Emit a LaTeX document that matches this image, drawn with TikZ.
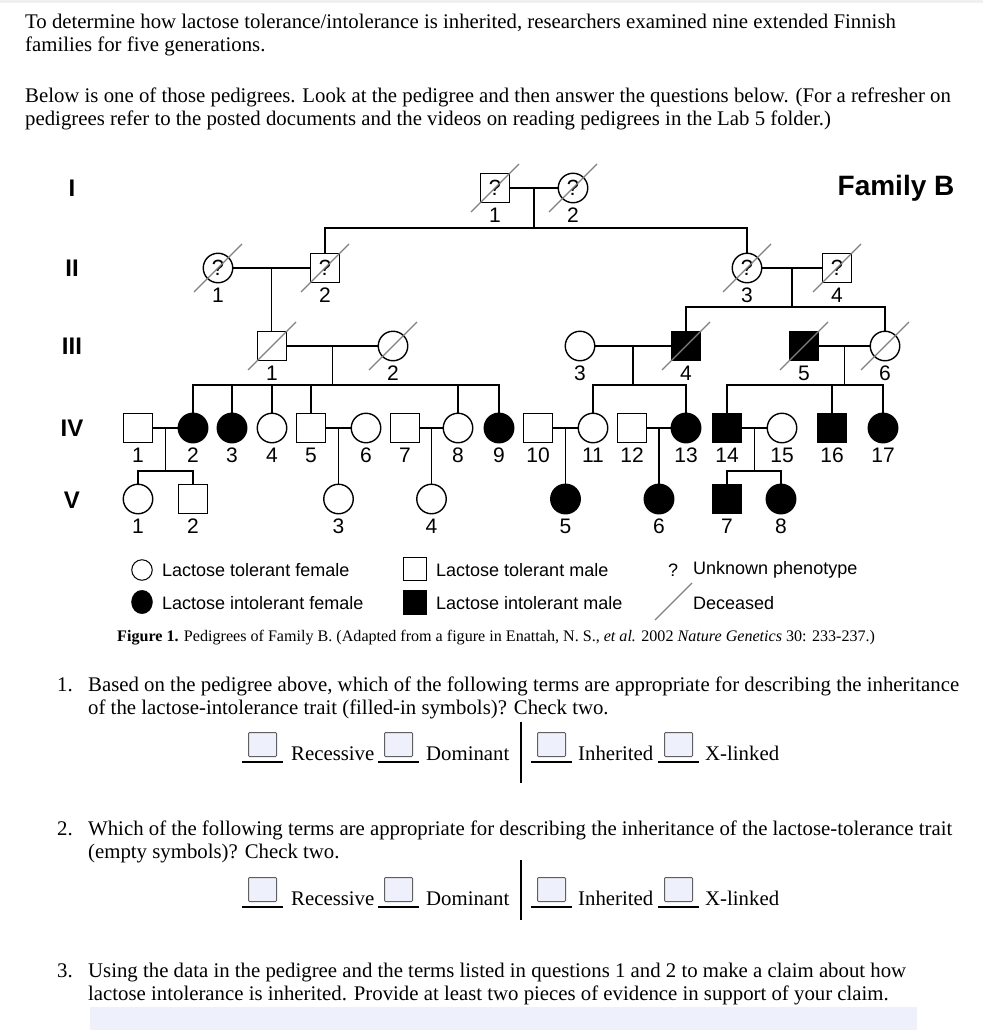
\documentclass[tikz,border=0pt]{standalone}
\usepackage{fontspec}
\setmainfont{Liberation Serif}
\setsansfont{Liberation Sans}
\usetikzlibrary{calc,shapes.geometric}
\definecolor{boxblue}{HTML}{EEF0FB}
\definecolor{deadgray}{gray}{0.5}
\newcommand{\dead}[1]{\draw[deadline] ([shift={(-24pt,-24pt)}]#1.center) -- ([shift={(24pt,24pt)}]#1.center);}

\begin{document}
\begin{tikzpicture}[x=1pt,y=-1pt,
  body/.style={font=\fontsize{20.8}{23}\selectfont,inner sep=0pt,anchor=base west},
  pline/.style={line width=1.7pt},
  sym/.style={draw,minimum size=29.5pt,inner sep=0pt,line width=1.4pt},
  male/.style={sym,rectangle},
  female/.style={sym,circle},
  aff/.style={fill=black},
  unk/.style={font=\sffamily\fontsize{22}{22}\selectfont},
  deadline/.style={deadgray,line width=1.1pt},
  every label/.style={font=\sffamily\fontsize{21}{21}\selectfont,inner sep=0pt},
  label distance=4pt,
  gen/.style={font=\sffamily\bfseries\fontsize{24}{24}\selectfont},
  legtext/.style={font=\sffamily\fontsize{18}{18}\selectfont,anchor=west,inner sep=0pt},
  chk/.style={draw=gray!75!black,fill=boxblue,line width=1pt,rounded corners=1pt,
    minimum width=28pt,minimum height=24pt,inner sep=0pt,anchor=south west}]
\fill[white] (0,0) rectangle (983,1030);
\useasboundingbox (0,0) rectangle (983,1030);
\fill[gray!12] (0,0) rectangle (983,3);

% intro
\node[body] (intro1) at (25,29) {To determine how lactose tolerance/intolerance is inherited, researchers examined nine extended Finnish};
\node[body] (intro2) at (25,52) {families for five generations.};
\node[body] (intro3) at (25,103) {Below is one of those pedigrees. Look at the pedigree and then answer the questions below. (For a refresher on};
\node[body] (intro4) at (25,126) {pedigrees refer to the posted documents and the videos on reading pedigrees in the Lab 5 folder.)};

% generations
\node[gen] (gI) at (72,188) {I};
\node[gen] (gII) at (72,268) {II};
\node[gen] (gIII) at (72,346) {III};
\node[gen] (gIV) at (72,428) {IV};
\node[gen] (gV) at (72,500) {V};
\node[font=\sffamily\bfseries\fontsize{28}{28}\selectfont] (fam) at (896,188) {Family B};

\node[male,unk,label=below:1] (I1) at (495,188) {?};
\node[female,unk,label=below:2] (I2) at (573,188) {?};

\node[female,unk,label=below:1] (II1) at (218,268) {?};
\node[male,unk,label=below:2] (II2) at (325,268) {?};
\node[female,unk,label=below:3] (II3) at (747,268) {?};
\node[male,unk,label=below:4] (II4) at (837,268) {?};

\node[male,label=below:1] (III1) at (272,346) {};
\node[female,label=below:2] (III2) at (393,346) {};
\node[female,label=below:3] (III3) at (580,346) {};
\node[male,aff,label=below:4] (III4) at (686,346) {};
\node[male,aff,label=below:5] (III5) at (804,346) {};
\node[female,label=below:6] (III6) at (885,346) {};

\foreach \i/\x/\s/\f in {1/138/rectangle/white,2/193/circle/black,3/232/circle/black,
  4/272/circle/white,5/311/rectangle/white,6/366/circle/white,7/405/rectangle/white,
  8/458/circle/white,9/499/circle/black,10/538/rectangle/white,11/593/circle/white,
  12/632/rectangle/white,13/686/circle/black,14/727/rectangle/black,15/782/circle/white,
  16/832/rectangle/black,17/883/circle/black}
  \node[sym,shape=\s,fill=\f,label=below:\i] (IV\i) at (\x,428) {};

\foreach \i/\x/\s/\f in {1/138/circle/white,2/193/rectangle/white,3/338.5/circle/white,
  4/431.5/circle/white,5/565.5/circle/black,6/659/circle/black,7/727/rectangle/black,
  8/781/circle/black}
  \node[sym,shape=\s,fill=\f,label=below:\i] (V\i) at (\x,499) {};

\foreach \n in {I1,I2,II1,II2,II3,II4,III1,III2,III4,III5,III6} {\dead{\n}}

% lines of descent
\draw[pline] (I1) -- (I2);
\coordinate (mI) at ($(I1)!.5!(I2)$);
\draw[pline] (mI) -- ++(0,40) coordinate (sI);
\draw[pline] (II2.north) |- (sI) -| (II3.north);

\draw[pline] (II1) -- (II2);
\coordinate (mII1) at ($(II1)!.5!(II2)$);
\draw[pline] (mII1) -- (mII1 |- III1.north);
\draw[pline] (II3) -- (II4);
\coordinate (mII2) at ($(II3)!.5!(II4)$);
\draw[pline] (mII2) -- ++(0,39) coordinate (sII);
\draw[pline] (III4.north) |- (sII) -| (III6.north);

\draw[pline] (III1) -- (III2);
\coordinate (mIII1) at ($(III1)!.5!(III2)$);
\draw[pline] (mIII1) -- ++(0,39) coordinate (sIII1);
\draw[pline] (IV2.north) |- (sIII1) -| (IV9.north);
\foreach \c in {IV3,IV4,IV5,IV8} \draw[pline] (\c.north) -- (\c.north |- sIII1);
\draw[pline] (III3) -- (III4);
\coordinate (mIII2) at ($(III3)!.5!(III4)$);
\draw[pline] (mIII2) -- ++(0,39) coordinate (sIII2);
\draw[pline] (IV11.north) |- (sIII2) -| (IV13.north);
\draw[pline] (III5) -- (III6);
\coordinate (mIII3) at ($(III5)!.5!(III6)$);
\draw[pline] (mIII3) -- ++(0,39) coordinate (sIII3);
\draw[pline] (IV14.north) |- (sIII3) -| (IV17.north);
\draw[pline] (IV16.north) -- (IV16.north |- sIII3);

\draw[pline] (IV1) -- (IV2);
\coordinate (mIV1) at ($(IV1)!.5!(IV2)$);
\draw[pline] (mIV1) -- ++(0,43) coordinate (sIV1);
\draw[pline] (V1.north) |- (sIV1) -| (V2.north);
\foreach \a/\b/\c in {IV5/IV6/V3,IV7/IV8/V4,IV10/IV11/V5,IV12/IV13/V6} {
  \draw[pline] (\a) -- (\b);
  \draw[pline] (\c.north |- \a) -- (\c.north);
}
\draw[pline] (IV14) -- (IV15);
\coordinate (mIV6) at ($(IV14)!.5!(IV15)$);
\draw[pline] (mIV6) -- ++(0,43) coordinate (sIV6);
\draw[pline] (V7.north) |- (sIV6) -| (V8.north);

% legend
\node[draw,circle,minimum size=20.5pt,inner sep=0pt,line width=1pt] (lgF) at (142,570) {};
\node[legtext] (lgFt) at (162,570) {Lactose tolerant female};
\node[draw,fill=black,ellipse,minimum width=21pt,minimum height=23.5pt,inner sep=0pt] (lgFa) at (142,602) {};
\node[legtext] (lgFat) at (162,603) {Lactose intolerant female};
\node[draw,minimum width=23pt,minimum height=23pt,inner sep=0pt,line width=1pt] (lgM) at (414.5,568.5) {};
\node[legtext] (lgMt) at (436,570) {Lactose tolerant male};
\node[draw,fill=black,minimum width=23pt,minimum height=24pt,inner sep=0pt] (lgMa) at (414.5,602) {};
\node[legtext] (lgMat) at (436,603) {Lactose intolerant male};
\node[legtext] (lgU) at (668,570) {?};
\node[legtext] (lgUt) at (693,570) {Unknown phenotype};
\draw[deadline] (655,620) -- (692,583);
\node[legtext] (lgDt) at (693,603) {Deceased};
\node[font=\fontsize{16.1}{18}\selectfont,inner sep=0pt,anchor=base west] (cap) at (117,641)
  {\textbf{Figure 1.} Pedigrees of Family B. (Adapted from a figure in Enattah, N. S., \textit{et al.} 2002 \textit{Nature Genetics} 30: 233-237.)};

% questions
\node[body] (q1n) at (57,691) {1.};
\node[body] (q1a) at (88,691) {Based on the pedigree above, which of the following terms are appropriate for describing the inheritance};
\node[body] (q1b) at (88,714) {of the lactose-intolerance trait (filled-in symbols)? Check two.};
\node[body] (q2n) at (57,835) {2.};
\node[body] (q2a) at (88,835) {Which of the following terms are appropriate for describing the inheritance of the lactose-tolerance trait};
\node[body] (q2b) at (88,858) {(empty symbols)? Check two.};
\node[body] (q3n) at (57,977) {3.};
\node[body] (q3a) at (88,977) {Using the data in the pedigree and the terms listed in questions 1 and 2 to make a claim about how};
\node[body] (q3b) at (88,1000) {lactose intolerance is inherited. Provide at least two pieces of evidence in support of your claim.};

\foreach \r/\y in {1/760,2/905} {
  \foreach \bx/\tx/\w [count=\k] in {248/291/Recessive,384/426/Dominant,537/578/Inherited,664/705/X-linked} {
    \node[chk] (box\r\k) at (\bx,\y-3) {};
    \draw[line width=1.3pt] ([shift={(-6pt,-5pt)}]box\r\k.south west) -- ([shift={(6pt,-5pt)}]box\r\k.south east);
    \node[body] (word\r\k) at (\tx,\y) {\w};
  }
}
\draw[line width=2pt] (521,722) -- (521,783);
\draw[line width=2pt] (521,860) -- (521,920);
\fill[boxblue] (90,1007) rectangle (917,1030);
\end{tikzpicture}
\end{document}
